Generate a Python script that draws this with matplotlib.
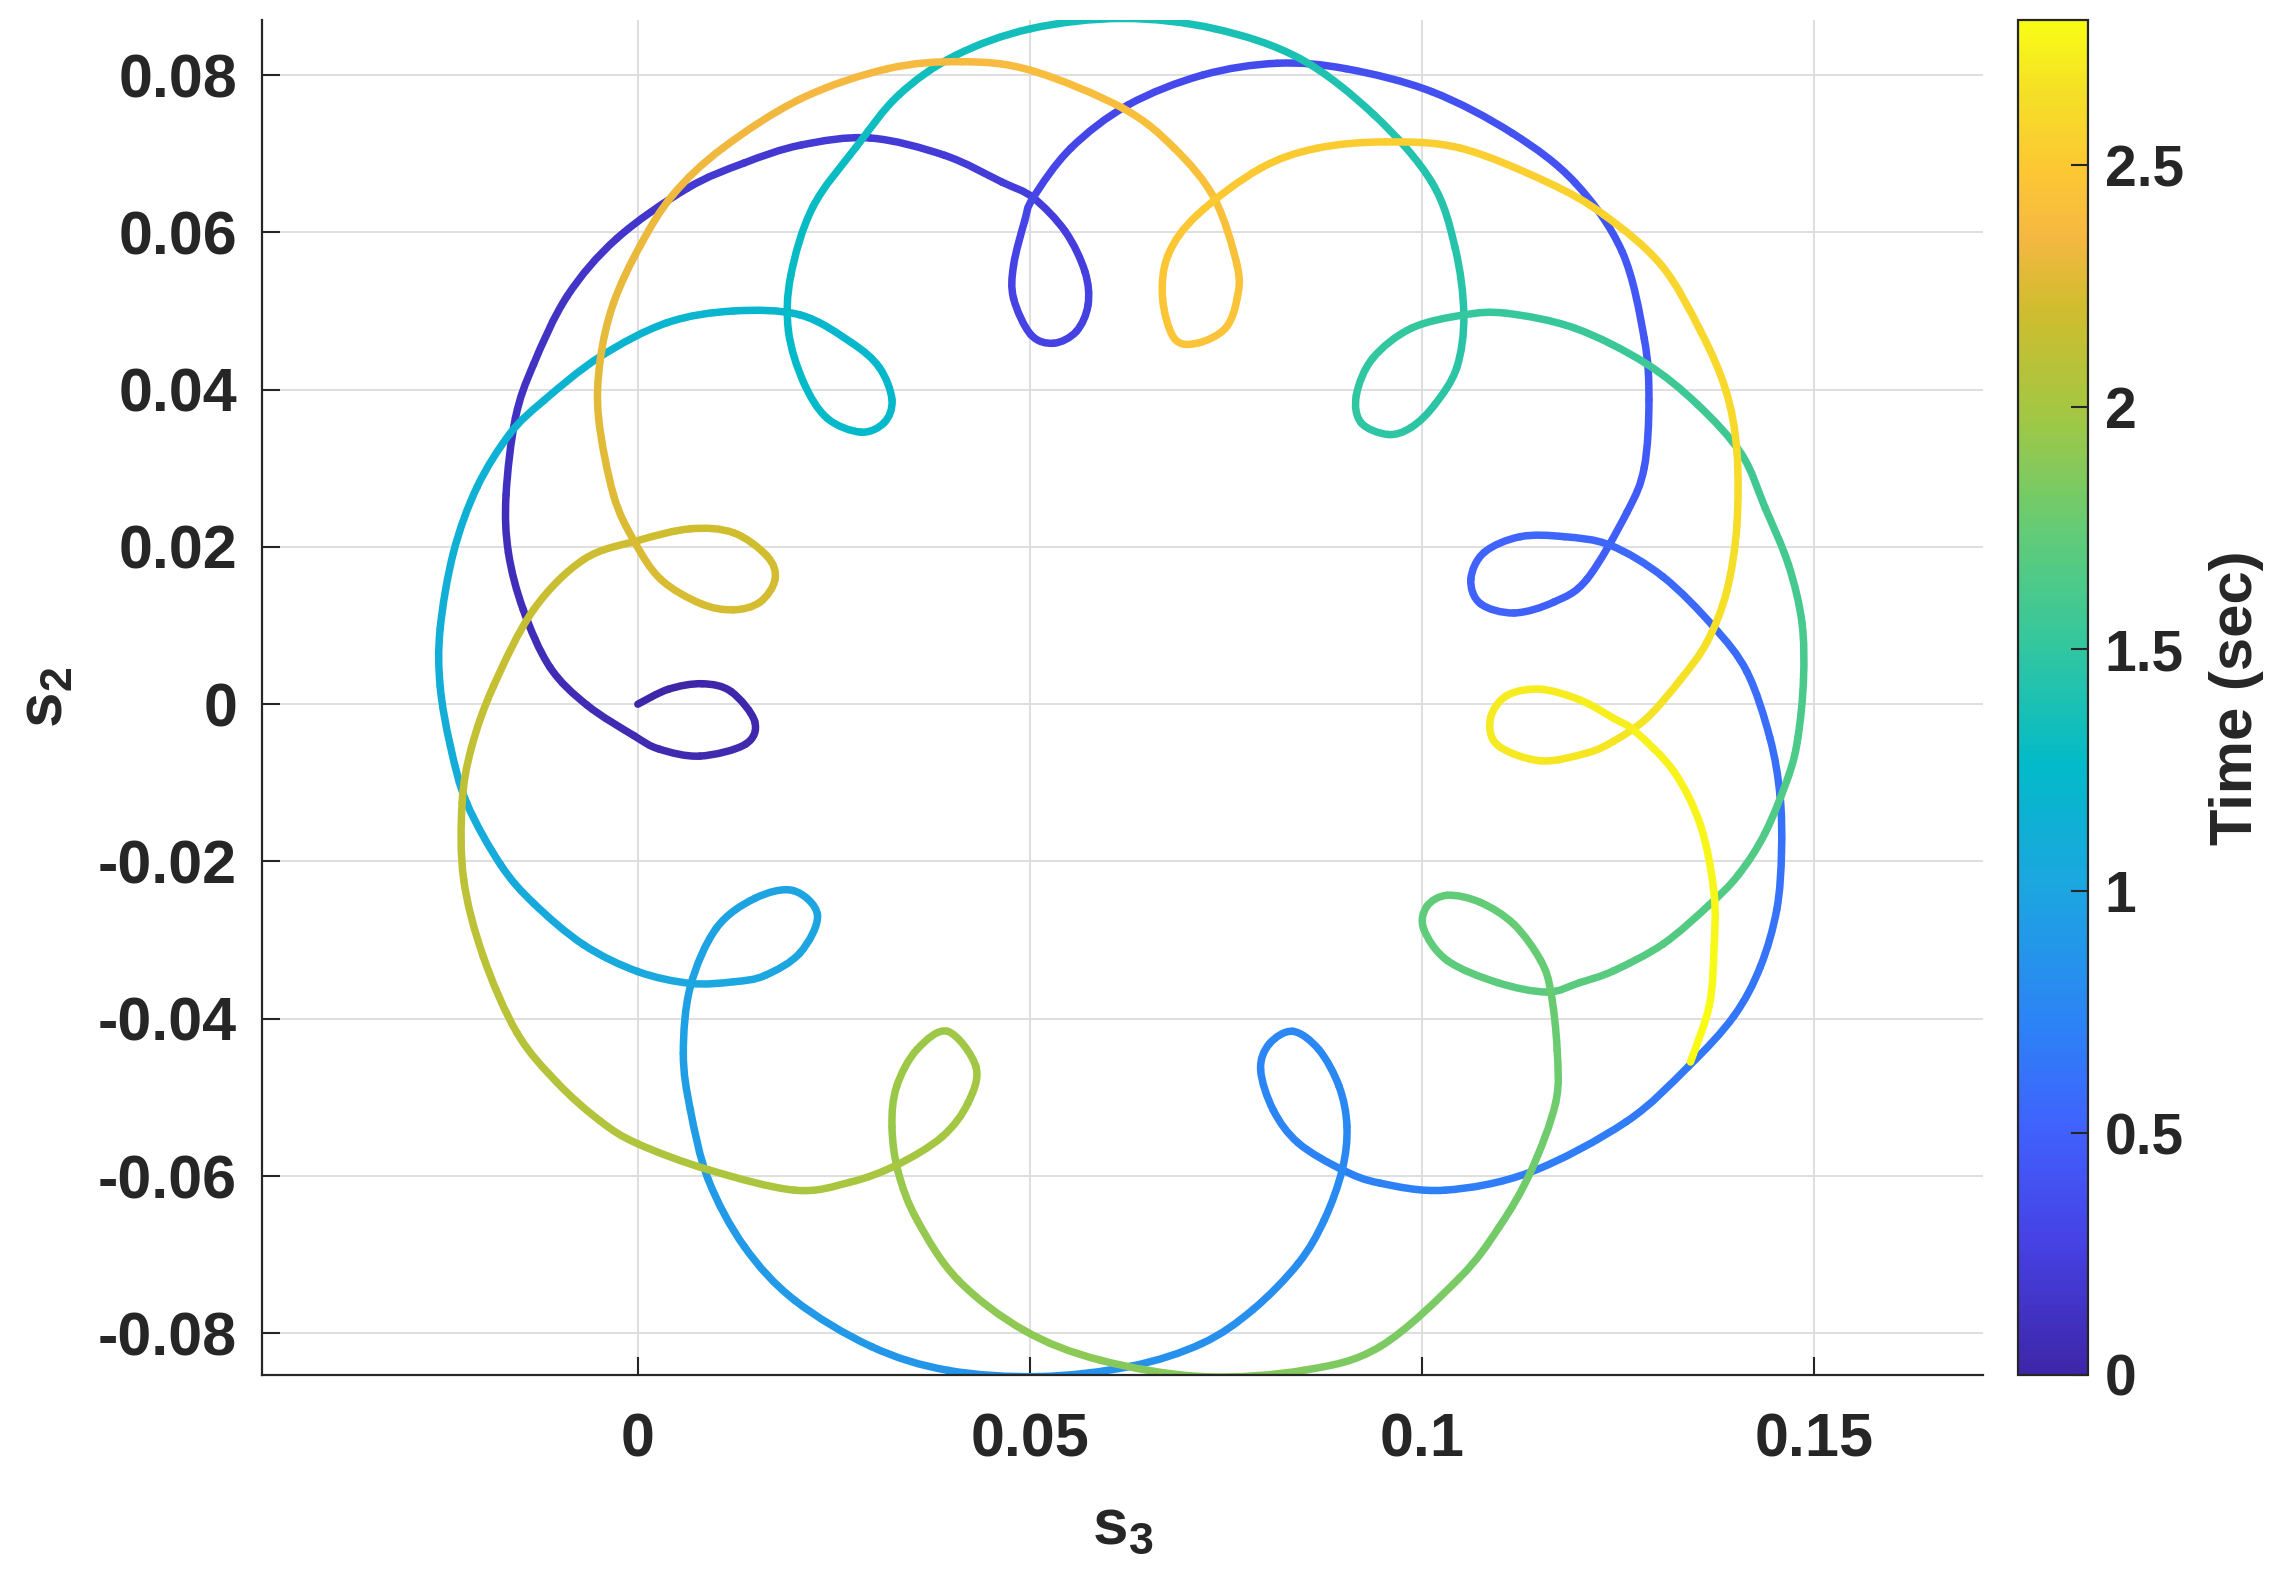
import numpy as np
import matplotlib.pyplot as plt
from matplotlib.collections import PathCollection
from matplotlib.path import Path
from matplotlib.colors import LinearSegmentedColormap, Normalize
from matplotlib.cm import ScalarMappable
from matplotlib.ticker import FormatStrFormatter

plt.rcParams['font.family'] = ['Liberation Sans', 'DejaVu Sans']
plt.rcParams['font.weight'] = 'bold'
plt.rcParams['mathtext.fontset'] = 'custom'
plt.rcParams['mathtext.bf'] = 'Liberation Sans:bold'
plt.rcParams['mathtext.rm'] = 'Liberation Sans:bold'
plt.rcParams['mathtext.it'] = 'Liberation Sans:bold'
plt.rcParams['mathtext.default'] = 'bf'

# trajectory (s3, s2), in time order, split in pieces
part_1 = [(0.0, 0.0), (0.0039, 0.0019), (0.0082, 0.0026), (0.0119, 0.0016), (0.0149, -0.0022),
          (0.0137, -0.0051), (0.0079, -0.0066), (0.0027, -0.0057), (-0.0005, -0.004),
          (-0.0065, -0.0001), (-0.0112, 0.0047), (-0.0146, 0.012), (-0.0165, 0.0193),
          (-0.0168, 0.0266), (-0.0156, 0.0364), (-0.0133, 0.0432), (-0.009, 0.0519),
          (-0.0027, 0.0592), (0.0063, 0.0656), (0.0135, 0.0688), (0.0208, 0.0711),
          (0.0296, 0.072), (0.0391, 0.0698), (0.0464, 0.0664), (0.0504, 0.0644),
          (0.0545, 0.0601), (0.057, 0.055), (0.0574, 0.0508), (0.0559, 0.0474),
          (0.053, 0.0459), (0.0501, 0.047), (0.0479, 0.0516), (0.0479, 0.0558),
          (0.0493, 0.0614), (0.0504, 0.0644), (0.0552, 0.0707), (0.0625, 0.0762),
          (0.072, 0.08), (0.0815, 0.0815), (0.0903, 0.0808), (0.1012, 0.0779),
          (0.1115, 0.0726), (0.1195, 0.0663), (0.1255, 0.0575), (0.1283, 0.0465),
          (0.1289, 0.0387), (0.1283, 0.0301), (0.1261, 0.0244), (0.121, 0.0159),
          (0.1168, 0.013), (0.1117, 0.0116), (0.1074, 0.0128), (0.1062, 0.0159),
          (0.1079, 0.0193), (0.1125, 0.0213), (0.1181, 0.0213), (0.124, 0.0202),
          (0.1307, 0.0162), (0.1371, 0.0099), (0.1414, 0.0041), (0.1443, -0.0042),
          (0.1456, -0.0115), (0.1458, -0.0188), (0.1452, -0.0261), (0.1431, -0.0334),
          (0.1397, -0.0397), (0.1339, -0.0461), (0.126, -0.0531), (0.1138, -0.0595)]
part_2 = [(0.1029, -0.0618), (0.0946, -0.0609), (0.0898, -0.0592), (0.0842, -0.0558),
          (0.081, -0.0516), (0.0794, -0.0465), (0.0805, -0.0432), (0.0835, -0.0416),
          (0.0868, -0.0439), (0.0894, -0.0486), (0.0904, -0.0537), (0.0898, -0.0592),
          (0.0875, -0.0656), (0.0842, -0.0711), (0.0784, -0.077), (0.0719, -0.0813),
          (0.0628, -0.0842), (0.0512, -0.0855), (0.0395, -0.0847), (0.0298, -0.0817),
          (0.02, -0.0758), (0.0136, -0.069), (0.009, -0.0605), (0.0067, -0.0516),
          (0.0058, -0.0444), (0.0067, -0.0359), (0.01, -0.0285), (0.0149, -0.0247),
          (0.0198, -0.0237), (0.0229, -0.0268), (0.0207, -0.0316), (0.0162, -0.0345),
          (0.0122, -0.0353), (0.0067, -0.0355), (0.0, -0.034), (-0.0069, -0.0306),
          (-0.0133, -0.0253), (-0.0175, -0.0204), (-0.0218, -0.0126), (-0.0239, -0.0053),
          (-0.0252, 0.0023), (-0.0252, 0.0096), (-0.0235, 0.0193), (-0.0205, 0.0276),
          (-0.0163, 0.0344), (-0.012, 0.0386), (-0.0048, 0.0442), (0.0037, 0.0485),
          (0.0122, 0.05), (0.0207, 0.0495), (0.0272, 0.046), (0.0308, 0.0428),
          (0.0324, 0.0387), (0.0314, 0.0358), (0.0284, 0.0346), (0.0241, 0.0364),
          (0.0211, 0.041), (0.0192, 0.0475), (0.0195, 0.0545), (0.0223, 0.0632),
          (0.0278, 0.0708), (0.0333, 0.0775), (0.0405, 0.0825), (0.0501, 0.0859),
          (0.0618, 0.0872), (0.0735, 0.0859), (0.0844, 0.0821), (0.0939, 0.0749)]
part_3 = [(0.1012, 0.0664), (0.1042, 0.058), (0.1053, 0.0495), (0.1044, 0.0428),
          (0.1016, 0.0381), (0.0986, 0.0352), (0.0956, 0.0343), (0.0922, 0.0358),
          (0.0916, 0.0393), (0.0937, 0.044), (0.0986, 0.0478), (0.1053, 0.0495),
          (0.1108, 0.0497), (0.1195, 0.0478), (0.1284, 0.0434), (0.1351, 0.0381),
          (0.1407, 0.0318), (0.1437, 0.025), (0.1467, 0.0177), (0.1484, 0.0104),
          (0.1486, 0.0031), (0.1479, -0.0042), (0.1467, -0.0091), (0.1437, -0.0164),
          (0.1403, -0.0217), (0.1365, -0.0256), (0.1307, -0.0305), (0.1244, -0.0339),
          (0.1201, -0.0354), (0.1159, -0.0366), (0.1096, -0.0354), (0.1032, -0.0326),
          (0.1002, -0.0286), (0.1006, -0.0257), (0.1032, -0.0243), (0.1074, -0.0252),
          (0.1117, -0.028), (0.1151, -0.0326), (0.1164, -0.0366), (0.1172, -0.044),
          (0.117, -0.0507), (0.1138, -0.0595), (0.1098, -0.0665), (0.1047, -0.073),
          (0.0946, -0.0817), (0.0849, -0.0847), (0.0719, -0.0855), (0.0589, -0.0834),
          (0.0492, -0.0796), (0.0408, -0.0732), (0.0356, -0.0656), (0.0332, -0.0595),
          (0.0324, -0.0537), (0.033, -0.0486), (0.0356, -0.0439), (0.0395, -0.0416),
          (0.0431, -0.0461), (0.0421, -0.0507), (0.0388, -0.055), (0.033, -0.0586),
          (0.027, -0.0608), (0.02, -0.0618), (0.009, -0.0592), (0.0, -0.0559)]
part_4 = [(-0.0048, -0.053), (-0.0103, -0.0481), (-0.0154, -0.0418), (-0.0197, -0.0321),
          (-0.0222, -0.0223), (-0.0224, -0.0126), (-0.0212, -0.0055), (-0.0184, 0.0023),
          (-0.0133, 0.012), (-0.0069, 0.0184), (0.0, 0.0208), (0.0067, 0.0223),
          (0.0122, 0.0218), (0.0165, 0.0188), (0.0175, 0.0159), (0.0156, 0.013),
          (0.0122, 0.012), (0.008, 0.0128), (0.0029, 0.0159), (-0.0005, 0.0208),
          (-0.0031, 0.0266), (-0.005, 0.0364), (-0.0048, 0.0437), (-0.0031, 0.051),
          (0.0003, 0.0583), (0.0045, 0.0648), (0.0108, 0.0707), (0.0208, 0.077),
          (0.0318, 0.0808), (0.0413, 0.0817), (0.0501, 0.0806), (0.0618, 0.0758),
          (0.0684, 0.0707), (0.0735, 0.0643), (0.0764, 0.0558), (0.0764, 0.0516),
          (0.0749, 0.0478), (0.0713, 0.0459), (0.0684, 0.0465), (0.0669, 0.0516),
          (0.0676, 0.0571), (0.0713, 0.0622), (0.0793, 0.0681), (0.0866, 0.0707),
          (0.0954, 0.0715), (0.1049, 0.0707), (0.1159, 0.0664), (0.1232, 0.0622),
          (0.1305, 0.0558), (0.1355, 0.0474), (0.1387, 0.0399), (0.1401, 0.0323),
          (0.1401, 0.0226), (0.1388, 0.0143), (0.1363, 0.0079), (0.1329, 0.0031),
          (0.1286, -0.0018), (0.1244, -0.0047), (0.121, -0.0062), (0.1151, -0.0072),
          (0.1096, -0.0052), (0.1087, -0.0018), (0.1108, 0.0011), (0.1151, 0.0019),
          (0.1202, 0.0005), (0.1244, -0.0018), (0.1272, -0.0035), (0.1321, -0.0086),
          (0.1355, -0.0155), (0.1372, -0.024), (0.1372, -0.031), (0.1366, -0.0383),
          (0.1342, -0.0455)]
t_end = 2.8  # top of the colour scale (sec)

cbar_ticks = [0, 0.5, 1, 1.5, 2, 2.5]
x_ticks = [0, 0.05, 0.1, 0.15]
y_ticks = [-0.08, -0.06, -0.04, -0.02, 0, 0.02, 0.04, 0.06, 0.08]

# parula-like colour map
parula = LinearSegmentedColormap.from_list('parula', [
    (0.00, (0.243, 0.150, 0.660)),
    (0.10, (0.275, 0.260, 0.900)),
    (0.18, (0.250, 0.380, 0.990)),
    (0.25, (0.180, 0.500, 0.970)),
    (0.36, (0.110, 0.650, 0.880)),
    (0.45, (0.010, 0.730, 0.790)),
    (0.54, (0.200, 0.780, 0.620)),
    (0.62, (0.380, 0.800, 0.470)),
    (0.71, (0.640, 0.780, 0.260)),
    (0.79, (0.820, 0.740, 0.180)),
    (0.84, (0.960, 0.720, 0.260)),
    (0.89, (0.990, 0.780, 0.200)),
    (0.95, (0.960, 0.880, 0.150)),
    (1.00, (0.977, 0.984, 0.081)),
])

P = np.array(part_1 + part_2 + part_3 + part_4)
# time along the path, taken from path length
seg_len = np.hypot(*np.diff(P, axis=0).T)
t = np.concatenate([[0], np.cumsum(seg_len)]) / seg_len.sum() * t_end
t_mid = 0.5 * (t[:-1] + t[1:])

# each piece between two read points is drawn as a smooth curve
Pext = np.vstack([P[:1], P, P[-1:]])
paths = []
for i in range(len(P) - 1):
    p0, p1, p2, p3 = Pext[i], Pext[i + 1], Pext[i + 2], Pext[i + 3]
    c1 = p1 + (p2 - p0) / 6
    c2 = p2 - (p3 - p1) / 6
    paths.append(Path([p1, c1, c2, p2],
                      [Path.MOVETO, Path.CURVE4, Path.CURVE4, Path.CURVE4]))

fig = plt.figure(figsize=(22.81, 15.77), dpi=100)
ax = fig.add_axes([0.1149, 0.1281, 0.7545, 0.8592])
cax = fig.add_axes([0.8847, 0.1281, 0.0307, 0.8592])

norm = Normalize(0, t_end)
pc = PathCollection(paths, facecolors='none', edgecolors=parula(norm(t_mid)),
                    linewidths=5.4, transform=ax.transData)
pc.set_capstyle('round')
pc.set_joinstyle('round')
ax.add_collection(pc)

ax.set_xlim(-0.0479, 0.1715)
ax.set_ylim(-0.0853, 0.0870)
ax.set_xticks(x_ticks)
ax.set_yticks(y_ticks)
ax.xaxis.set_major_formatter(FormatStrFormatter('%g'))
ax.yaxis.set_major_formatter(FormatStrFormatter('%g'))
ax.grid(True, color='#dcdcdc', linewidth=1.3)
ax.set_axisbelow(True)
for side in ['top', 'right']:
    ax.spines[side].set_visible(False)
for side in ['left', 'bottom']:
    ax.spines[side].set_linewidth(1.6)
    ax.spines[side].set_color('#262626')
ax.tick_params(axis='both', direction='in', length=13, width=1.5, color='#262626',
               labelsize=44, labelcolor='#262626')
ax.tick_params(axis='x', pad=27)
ax.tick_params(axis='y', pad=18)
for lab in ax.get_xticklabels() + ax.get_yticklabels():
    lab.set_fontweight('bold')

ax.set_xlabel(r'$s_3$', fontsize=46, color='#262626')
ax.set_ylabel(r'$s_2$', fontsize=46, color='#262626')
ax.xaxis.set_label_coords(0.5, -0.09)
ax.yaxis.set_label_coords(-0.108, 0.5)

cb = fig.colorbar(ScalarMappable(norm=norm, cmap=parula), cax=cax)
cb.set_ticks(cbar_ticks)
cb.ax.yaxis.set_major_formatter(FormatStrFormatter('%g'))
cb.outline.set_linewidth(1.6)
cb.outline.set_edgecolor('#262626')
cb.ax.tick_params(direction='in', length=12, width=1.5, color='#262626',
                  labelsize=41, labelcolor='#262626', pad=12)
for lab in cb.ax.get_yticklabels():
    lab.set_fontweight('bold')
fig.text(0.9803, 0.5574, 'Time (sec)', rotation=90, ha='center', va='center',
         fontsize=43, fontweight='bold', color='#262626')

fig.savefig('out.png', dpi=100)
